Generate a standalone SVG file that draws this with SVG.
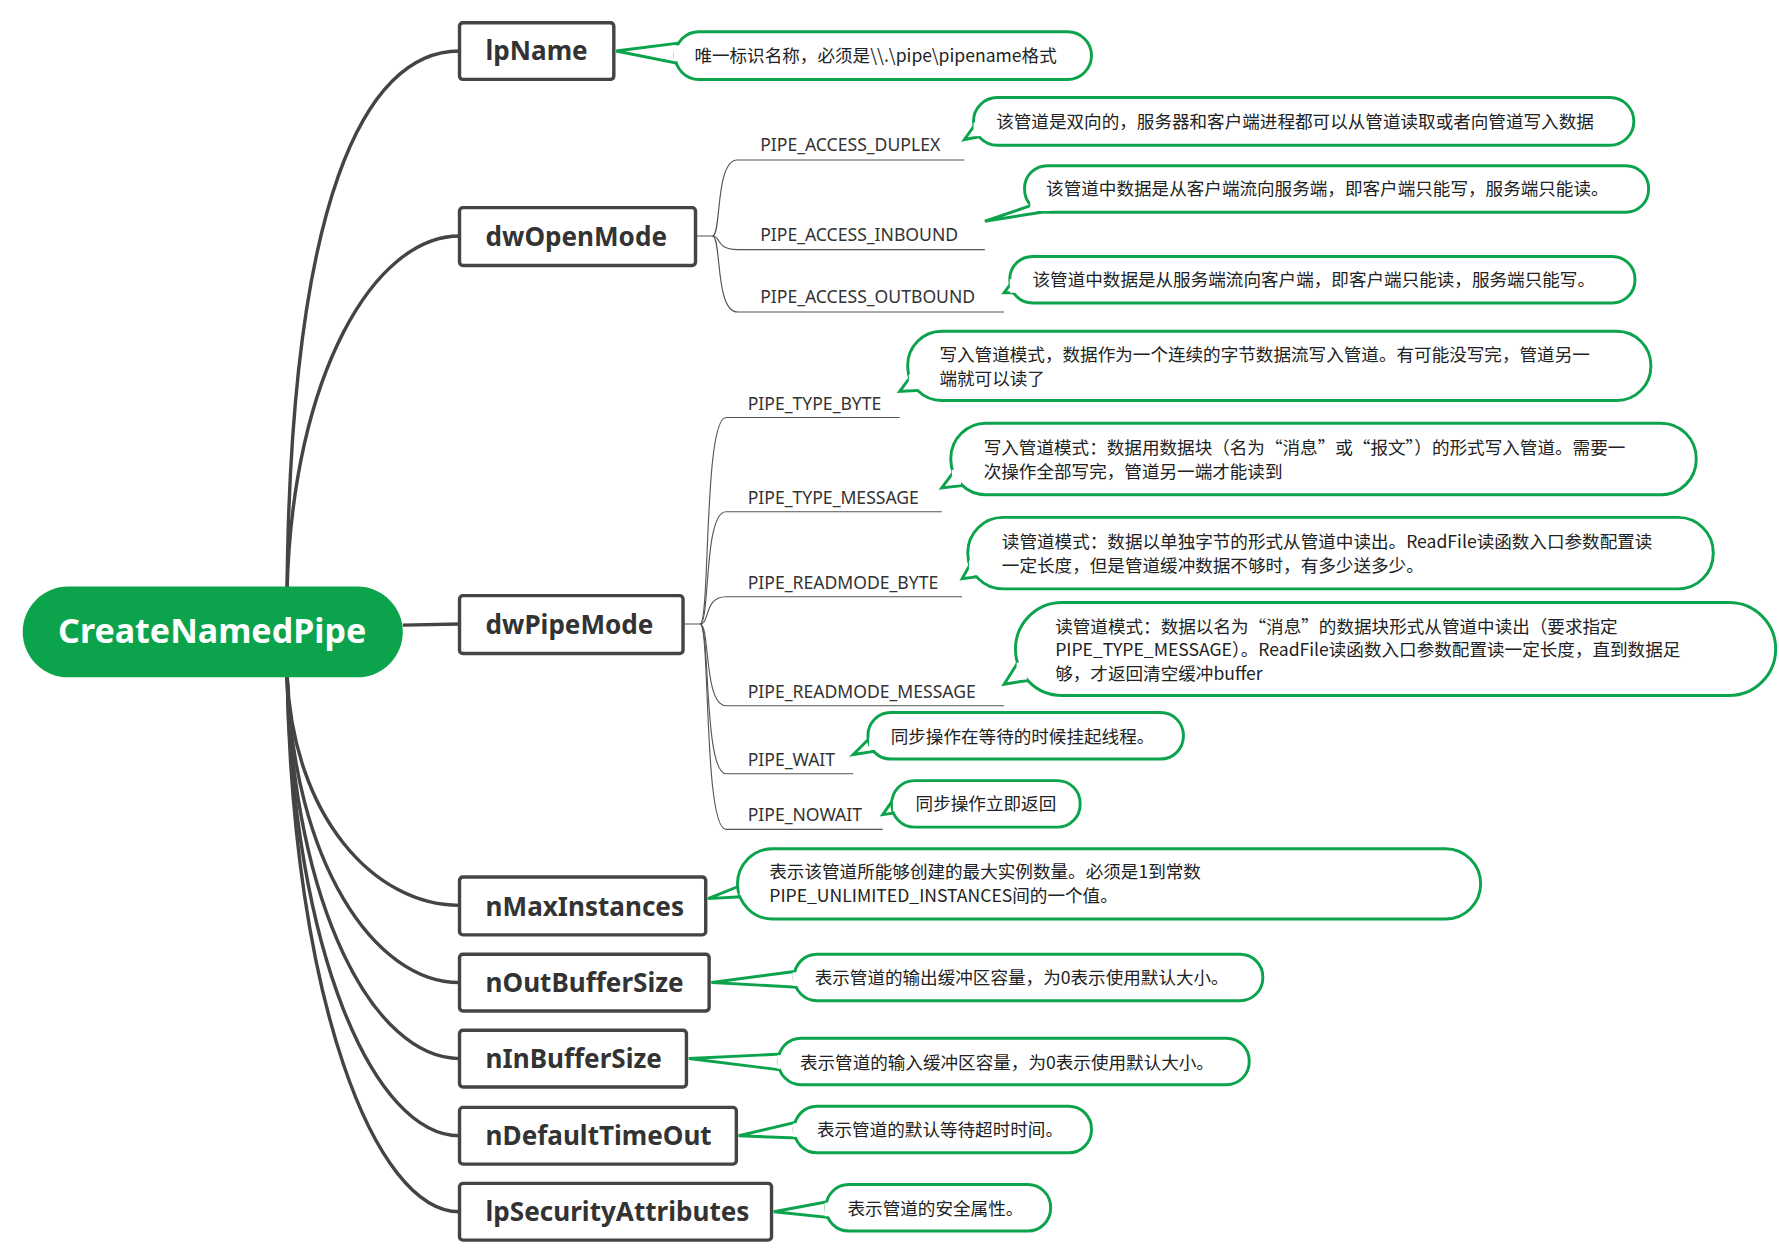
<svg xmlns="http://www.w3.org/2000/svg" width="1779" height="1252" viewBox="0 0 1779 1252">
<style>
.bx{fill:#fff;stroke:#444;stroke-width:3}
.bt{font-family:"Noto Sans","Noto Sans CJK SC",sans-serif;font-weight:bold;font-size:23px;fill:#333}
.cb{fill:#fff;stroke:#0ca34d;stroke-width:2.6}
.ct{font-family:"Noto Sans CJK SC",sans-serif;font-size:15.5px;fill:#222}
.lb{font-family:"Noto Sans","Noto Sans CJK SC",sans-serif;font-size:15.5px;fill:#333}
.mc{fill:none;stroke:#444;stroke-width:3}
.sc{fill:none;stroke:#555;stroke-width:1}
</style>
<rect width="1779" height="1252" fill="#fff"/>
<g transform="scale(1.1346)">
<g id="connectors">
<path class="mc" d="M253 520 C256 180 320 45 405 45"/>
<path class="mc" d="M253 520 C258 330 330 208 405 208"/>
<path class="mc" d="M355 551 L405 550"/>
<path class="mc" d="M253 594 C258 720 330 798 405 798"/>
<path class="mc" d="M253 594 C258 760 330 866 405 866"/>
<path class="mc" d="M253 594 C258 800 330 933 405 933"/>
<path class="mc" d="M253 594 C258 840 330 1001 405 1001"/>
<path class="mc" d="M253 594 C258 880 330 1068 405 1068"/>
<path class="sc" d="M613 208 H628 C636 208 630 141 650 141 H850"/>
<path class="sc" d="M628 208 C636 208 630 220 650 220 H868"/>
<path class="sc" d="M628 208 C636 208 630 275 650 275 H885"/>
<path class="sc" d="M602 550 H617 C626 550 620 368 640 368 H793"/>
<path class="sc" d="M617 550 C626 550 620 451 640 451 H830"/>
<path class="sc" d="M617 550 C626 550 620 526 640 526 H848"/>
<path class="sc" d="M617 550 C626 550 620 622 640 622 H885"/>
<path class="sc" d="M617 550 C626 550 620 682 640 682 H752"/>
<path class="sc" d="M617 550 C626 550 620 731 640 731 H778"/>
</g>
<g id="root"><rect x="20" y="517" width="335" height="80" rx="40" fill="#0ca34d"/><text x="187" y="567" text-anchor="middle" font-family="'Noto Sans',sans-serif" font-weight="bold" font-size="30" fill="#fff">CreateNamedPipe</text></g>
<g id="lpName"><rect class="bx" x="405" y="20" width="136" height="50" rx="3"/><text class="bt" x="428" y="53">lpName</text></g>
<g id="dwOpenMode"><rect class="bx" x="405" y="183" width="208" height="51" rx="3"/><text class="bt" x="428" y="217">dwOpenMode</text></g>
<g id="dwPipeMode"><rect class="bx" x="405" y="525" width="197" height="51" rx="3"/><text class="bt" x="428" y="559">dwPipeMode</text></g>
<g id="nMaxInstances"><rect class="bx" x="405" y="773" width="217" height="51" rx="3"/><text class="bt" x="428" y="807">nMaxInstances</text></g>
<g id="nOutBufferSize"><rect class="bx" x="405" y="841" width="220" height="50" rx="3"/><text class="bt" x="428" y="874">nOutBufferSize</text></g>
<g id="nInBufferSize"><rect class="bx" x="405" y="908" width="200" height="50" rx="3"/><text class="bt" x="428" y="941">nInBufferSize</text></g>
<g id="nDefaultTimeOut"><rect class="bx" x="405" y="976" width="244" height="50" rx="3"/><text class="bt" x="428" y="1009">nDefaultTimeOut</text></g>
<g id="lpSecurityAttributes"><rect class="bx" x="405" y="1043" width="275" height="50" rx="3"/><text class="bt" x="428" y="1076">lpSecurityAttributes</text></g>
<g id="labels">
<text class="lb" x="670" y="133">PIPE_ACCESS_DUPLEX</text>
<text class="lb" x="670" y="212">PIPE_ACCESS_INBOUND</text>
<text class="lb" x="670" y="267">PIPE_ACCESS_OUTBOUND</text>
<text class="lb" x="659" y="361">PIPE_TYPE_BYTE</text>
<text class="lb" x="659" y="444">PIPE_TYPE_MESSAGE</text>
<text class="lb" x="659" y="519">PIPE_READMODE_BYTE</text>
<text class="lb" x="659" y="615">PIPE_READMODE_MESSAGE</text>
<text class="lb" x="659" y="675">PIPE_WAIT</text>
<text class="lb" x="659" y="724">PIPE_NOWAIT</text>
</g>
<g id="c-lpName"><polygon class="cb" points="543,45 598,38 598,56"/><rect class="cb" x="595" y="28" width="367" height="42" rx="21"/><rect x="594" y="40" width="5" height="14" fill="#fff"/><text class="ct" x="612" y="55">唯一标识名称，必须是\\.\pipe\pipename格式</text></g>
<g id="c-duplex"><polygon class="cb" points="850,123 862,106 866,120"/><rect class="cb" x="858" y="86" width="582" height="42" rx="21"/><rect x="858" y="108" width="6" height="12" fill="#fff"/><text class="ct" x="878" y="113">该管道是双向的，服务器和客户端进程都可以从管道读取或者向管道写入数据</text></g>
<g id="c-inbound"><polygon class="cb" points="868,195 912,180 925,186"/><rect class="cb" x="903" y="146" width="550" height="41" rx="20"/><rect x="908" y="178" width="18" height="8" fill="#fff"/><text class="ct" x="922" y="172">该管道中数据是从客户端流向服务端，即客户端只能写，服务端只能读。</text></g>
<g id="c-outbound"><polygon class="cb" points="885,258 894,246 898,258"/><rect class="cb" x="890" y="226" width="551" height="41" rx="20"/><rect x="890" y="246" width="7" height="12" fill="#fff"/><text class="ct" x="910" y="252">该管道中数据是从服务端流向客户端，即客户端只能读，服务端只能写。</text></g>
<g id="c-byte"><polygon class="cb" points="793,345 804,330 810,344"/><rect class="cb" x="800" y="292" width="655" height="61" rx="30"/><rect x="801" y="330" width="8" height="13" fill="#fff"/><text class="ct" x="828" y="318">写入管道模式，数据作为一个连续的字节数据流写入管道。有可能没写完，管道另一</text><text class="ct" x="828" y="339">端就可以读了</text></g>
<g id="c-message"><polygon class="cb" points="830,430 842,414 848,428"/><rect class="cb" x="838" y="373" width="657" height="63" rx="31"/><rect x="839" y="414" width="8" height="13" fill="#fff"/><text class="ct" x="867" y="400">写入管道模式：数据用数据块（名为“消息”或“报文”）的形式写入管道。需要一</text><text class="ct" x="867" y="421">次操作全部写完，管道另一端才能读到</text></g>
<g id="c-rbyte"><polygon class="cb" points="848,510 857,494 864,508"/><rect class="cb" x="853" y="456" width="657" height="63" rx="31"/><rect x="854" y="494" width="9" height="13" fill="#fff"/><text class="ct" x="883" y="483">读管道模式：数据以单独字节的形式从管道中读出。ReadFile读函数入口参数配置读</text><text class="ct" x="883" y="504">一定长度，但是管道缓冲数据不够时，有多少送多少。</text></g>
<g id="c-rmessage"><polygon class="cb" points="885,603 897,584 904,600"/><rect class="cb" x="895" y="531" width="670" height="82" rx="41"/><rect x="896" y="584" width="9" height="15" fill="#fff"/><text class="ct" x="930" y="558">读管道模式：数据以名为“消息”的数据块形式从管道中读出（要求指定</text><text class="ct" x="930" y="578">PIPE_TYPE_MESSAGE）。ReadFile读函数入口参数配置读一定长度，直到数据足</text><text class="ct" x="930" y="599">够，才返回清空缓冲buffer</text></g>
<g id="c-wait"><polygon class="cb" points="752,665 767,650 772,662"/><rect class="cb" x="765" y="628" width="278" height="41" rx="20"/><rect x="766" y="650" width="6" height="11" fill="#fff"/><text class="ct" x="785" y="655">同步操作在等待的时候挂起线程。</text></g>
<g id="c-nowait"><polygon class="cb" points="778,718 787,705 792,716"/><rect class="cb" x="786" y="688" width="166" height="41" rx="20"/><rect x="787" y="705" width="5" height="10" fill="#fff"/><text class="ct" x="807" y="714">同步操作立即返回</text></g>
<g id="c-max"><polygon class="cb" points="624,792 654,780 660,790"/><rect class="cb" x="650" y="748" width="655" height="62" rx="31"/><rect x="652" y="779" width="8" height="10" fill="#fff"/><text class="ct" x="678" y="774">表示该管道所能够创建的最大实例数量。必须是1到常数</text><text class="ct" x="678" y="795">PIPE_UNLIMITED_INSTANCES间的一个值。</text></g>
<g id="c-out"><polygon class="cb" points="627,866 702,856 702,870"/><rect class="cb" x="700" y="841" width="413" height="41" rx="20"/><rect x="699" y="857" width="5" height="12" fill="#fff"/><text class="ct" x="718" y="867">表示管道的输出缓冲区容量，为0表示使用默认大小。</text></g>
<g id="c-in"><polygon class="cb" points="607,933 688,929 688,943"/><rect class="cb" x="686" y="915" width="415" height="41" rx="20"/><rect x="685" y="930" width="5" height="12" fill="#fff"/><text class="ct" x="705" y="942">表示管道的输入缓冲区容量，为0表示使用默认大小。</text></g>
<g id="c-timeout"><polygon class="cb" points="651,1001 702,989 702,1003"/><rect class="cb" x="700" y="975" width="262" height="41" rx="20"/><rect x="699" y="990" width="5" height="12" fill="#fff"/><text class="ct" x="720" y="1001">表示管道的默认等待超时时间。</text></g>
<g id="c-sec"><polygon class="cb" points="682,1068 730,1059 730,1073"/><rect class="cb" x="728" y="1044" width="198" height="41" rx="20"/><rect x="727" y="1060" width="5" height="12" fill="#fff"/><text class="ct" x="747" y="1071">表示管道的安全属性。</text></g>
</g>
</svg>
